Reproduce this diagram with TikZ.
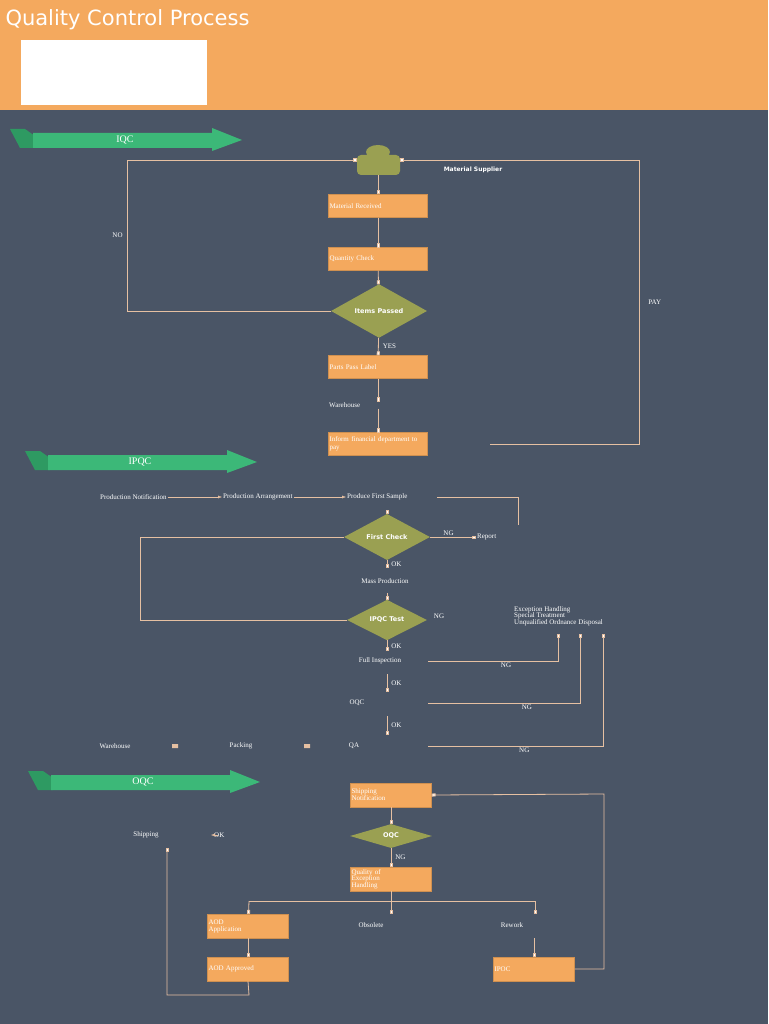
\documentclass[tikz,border=0pt]{standalone}
\usepackage{fontspec}
\setmainfont{Liberation Serif}
\newfontfamily\qsans{DejaVu Sans}
\usetikzlibrary{shapes.geometric,arrows.meta,positioning}
\definecolor{qbg}{HTML}{4A5566}
\definecolor{qorange}{HTML}{F4A95E}
\definecolor{qolive}{HTML}{9AA052}
\definecolor{qgreen}{HTML}{3CB878}
\definecolor{qgreendk}{HTML}{2E9A62}
\definecolor{qline}{HTML}{E6C0A2}
\tikzset{
  box/.style={fill=qorange, draw=qorange!85!black, minimum height=23, text width=97pt,
    inner sep=1pt, align=left, text=white, font=\fontsize{7}{8}\selectfont},
  dia/.style={diamond, fill=qolive, minimum width=96, minimum height=28, inner sep=0pt,
    text=white, font=\qsans\bfseries\fontsize{6.5}{7}\selectfont},
  lbl/.style={text=white, font=\fontsize{7}{8}\selectfont, inner sep=1pt},
  conn/.style={qline, thick, -{Square[length=4pt,width=3pt,fill=white]}},
  wire/.style={qline, thick},
  phase/.style={text=white, font=\fontsize{10}{11}\selectfont}
}
\newcommand{\phasearrow}[3]{% x, y, label
  \fill[qgreendk] (#1,#2-10) -- (#1+15,#2-10) -- (#1+25,#2-3) -- (#1+25,#2+9) -- (#1+10,#2+9) -- cycle;
  \fill[qgreen] (#1+23,#2-6) rectangle (#1+202,#2+9) (#1+202,#2-11) -- (#1+232,#2+1) -- (#1+202,#2+12) -- cycle;
  \node[phase] at (#1+115,#2+1) {#3};}
\begin{document}
\begin{tikzpicture}[x=1pt,y=-1pt]
  \fill[qbg] (0,0) rectangle (768,1024);
  \useasboundingbox (0,0) rectangle (768,1024);
  % header
  \fill[qorange] (0,0) rectangle (768,110);
  \node[anchor=west, text=white, font=\qsans\fontsize{21}{24}\selectfont] (title) at (2,20) {Quality Control Process};
  \fill[white] (21,40) rectangle (207,105);

  % IQC
  \phasearrow{10}{139}{IQC}
  \fill[qolive, rounded corners=4] (357,155) rectangle (400,175);
  \fill[qolive] (378,152) ellipse (12 and 7);
  \coordinate (sup) at (378,162);
  \coordinate (supL) at (357,160);
  \coordinate (supR) at (400,160);
  \node[lbl, font=\qsans\bfseries\fontsize{6}{7}\selectfont] (suplbl) at (473,170) {Material Supplier};
  \node[box] (recv) at (378,206) {Material Received};
  \node[box] (qchk) at (378,259) {Quantity Check};
  \node[dia] (pass) at (379,311) {Items Passed};
  \node[box] (ppl) at (378,367) {Parts Pass Label};
  \node[lbl, anchor=west] (wh1) at (328,405) {Warehouse};
  \node[box] (pay) at (378,444) {Inform financial department to pay};
  \draw[conn] (378,175) -- (recv);
  \draw[conn] (recv) -- (qchk);
  \draw[conn] (qchk) -- (pass);
  \draw[conn] (pass) -- node[lbl, right=3pt] {YES} (ppl);
  \draw[conn] (ppl) -- (wh1.north -| ppl);
  \draw[conn] (wh1.south -| pay) -- (pay);
  \draw[conn] (pass.west) -- (127,311) -- node[lbl, left=3pt, pos=0.5] {NO} (127,160) -- (supL);
  \draw[conn] (490,444) -- (639,444) -- node[lbl, right=8pt] {PAY} (639,160) -- (supR);

  % IPQC
  \phasearrow{25}{461}{IPQC}
  \node[lbl, anchor=west] (pnot) at (99,497) {Production Notification};
  \node[lbl, anchor=west] (parr) at (222,497) {Production Arrangement};
  \node[lbl, anchor=west] (pfs) at (346,497) {Produce First Sample};
  \draw[qline, -{Latex[length=4pt]}] (pnot) -- (parr);
  \draw[qline, -{Latex[length=4pt]}] (parr) -- (pfs);
  \draw[wire] (437,497) -- (518,497) -- (518,525);
  \node[dia, minimum width=86, minimum height=22] (fchk) at (387,537) {First Check};
  \node[lbl, anchor=west] (rep) at (476,537) {Report};
  \draw[conn] (387,510) -- (fchk);
  \draw[conn] (fchk) -- node[lbl, above, pos=0.4] {NG} (rep);
  \node[lbl] (mass) at (385,581) {Mass Production};
  \draw[conn] (fchk) -- node[lbl, right=3pt] {OK} (387,568);
  \node[dia, minimum width=80, minimum height=22] (ipqc) at (387,620) {IPQC Test};
  \draw[conn] (387,593) -- (ipqc);
  \draw[wire] (fchk.west) -- (140,537) -- (140,620) -- (ipqc.west);
  \node[lbl, anchor=west, align=left, font=\fontsize{7}{6.5}\selectfont] (exc) at (513,616) {Exception Handling\\Special Treatment\\Unqualified Ordnance Disposal};
  \node[lbl] at (439,616) {NG};
  \node[lbl] (full) at (380,661) {Full Inspection};
  \node[lbl] (oqc1) at (357,703) {OQC};
  \node[lbl] (qa) at (354,746) {QA};
  \draw[conn] (ipqc) -- node[lbl, right=3pt] {OK} (387,651);
  \draw[conn] (387,674) -- node[lbl, right=3pt] {OK} (387,692);
  \draw[conn] (387,716) -- node[lbl, right=3pt] {OK} (387,735);
  \draw[conn] (428,661) -- node[lbl, below, pos=0.6] {NG} (558,661) -- (558,634);
  \draw[conn] (428,703) -- node[lbl, below, pos=0.65] {NG} (580,703) -- (580,634);
  \draw[conn] (428,746) -- node[lbl, below, pos=0.55] {NG} (603,746) -- (603,634);
  \node[lbl] (wh2) at (115,746) {Warehouse};
  \node[lbl] (pack) at (241,746) {Packing};
  \fill[qline] (172,744) rectangle (178,748) (304,744) rectangle (310,748);

  % OQC
  \phasearrow{28}{781}{OQC}
  \node[box, text width=79pt, minimum height=24, font=\fontsize{7}{7}\selectfont] (shn) at (391,795) {Shipping\\Notification};
  \node[dia, minimum width=82, minimum height=24] (oqc) at (391,836) {OQC};
  \node[box, text width=79pt, minimum height=24, font=\fontsize{7}{6.5}\selectfont] (qeh) at (391,879) {Quality of\\Exception\\Handling};
  \node[box, text width=79pt, minimum height=24, font=\fontsize{7}{7}\selectfont] (aoda) at (248,926) {AOD\\Application};
  \node[box, text width=79pt, minimum height=24] (aodp) at (248,969) {AOD Approved};
  \node[box, text width=79pt, minimum height=24] (ipoc) at (534,969) {IPOC};
  \node[lbl] (obs) at (371,925) {Obsolete};
  \node[lbl] (rwk) at (512,925) {Rework};
  \node[lbl] (shp) at (146,835) {Shipping};
  \node[lbl, anchor=west] (ok3) at (213,835) {OK};
  \draw[qline, -{Latex[length=4pt]}] (218,835) -- (211,835);
  \draw[conn] (shn) -- (oqc);
  \draw[conn] (oqc) -- node[lbl, right=3pt] {NG} (qeh);
  \draw[wire] (qeh) -- (391,901);
  \draw[conn] (249,901) -- (aoda);
  \draw[conn] (391,901) -- (391,914);
  \draw[conn] (249,901) -- (535,901) -- (535,914);
  \draw[conn] (aoda) -- (aodp);
  \draw[conn] (534,938) -- (ipoc);
  \draw[conn] (aodp.south) -- (249,995) -- (167,995) -- (167,848);
  \draw[conn] (ipoc.east) -- (604,969) -- (604,794) -- (shn.east);
\end{tikzpicture}
\end{document}
